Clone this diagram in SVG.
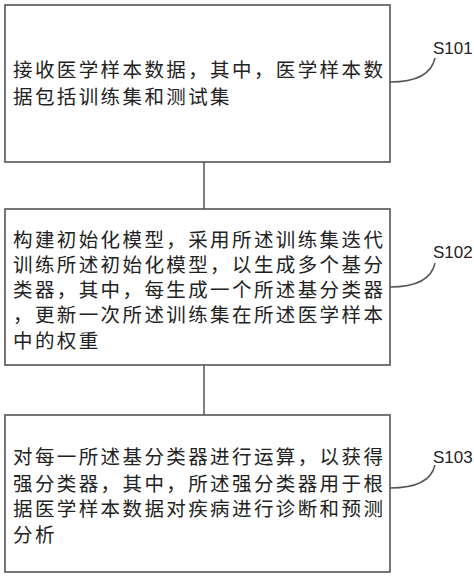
<svg xmlns="http://www.w3.org/2000/svg" width="474" height="578" viewBox="0 0 474 578">
<style>
.box{fill:#fff;stroke:#555;stroke-width:1.6}
.t{font-family:"Noto Sans CJK SC","Noto Sans CJK JP",sans-serif;font-size:19.5px;letter-spacing:2.4px;fill:#222}
.lbl{font-family:"Liberation Sans","Open Sans",sans-serif;font-size:17px;fill:#222}
.ln{fill:none;stroke:#555;stroke-width:1.5}
</style>
<rect width="474" height="578" fill="#fff"/>
<g id="connectors">
<line class="ln" x1="204" y1="162" x2="204" y2="209"/>
<line class="ln" x1="204" y1="365" x2="204" y2="415"/>
<path class="ln" d="M390,82 C420,82 432,72 435,58"/>
<path class="ln" d="M390,287 C420,287 432,277 435,263"/>
<path class="ln" d="M390,488 C420,488 432,478 435,465"/>
</g>
<g id="S101">
<rect class="box" x="5" y="5" width="385" height="157"/>
<text class="t"><tspan x="13" y="77">接收医学样本数据，其中，医学样本数</tspan><tspan x="13" y="104">据包括训练集和测试集</tspan></text>
<text class="lbl" x="433" y="54">S101</text>
</g>
<g id="S102">
<rect class="box" x="5" y="209" width="385" height="156"/>
<text class="t"><tspan x="13" y="247">构建初始化模型，采用所述训练集迭代</tspan><tspan x="13" y="272">训练所述初始化模型，以生成多个基分</tspan><tspan x="13" y="297">类器，其中，每生成一个所述基分类器</tspan><tspan x="13" y="322">，更新一次所述训练集在所述医学样本</tspan><tspan x="13" y="348">中的权重</tspan></text>
<text class="lbl" x="433" y="258">S102</text>
</g>
<g id="S103">
<rect class="box" x="5" y="415" width="385" height="157"/>
<text class="t"><tspan x="13" y="464">对每一所述基分类器进行运算，以获得</tspan><tspan x="13" y="491">强分类器，其中，所述强分类器用于根</tspan><tspan x="13" y="516">据医学样本数据对疾病进行诊断和预测</tspan><tspan x="13" y="542">分析</tspan></text>
<text class="lbl" x="433" y="463">S103</text>
</g>
</svg>
